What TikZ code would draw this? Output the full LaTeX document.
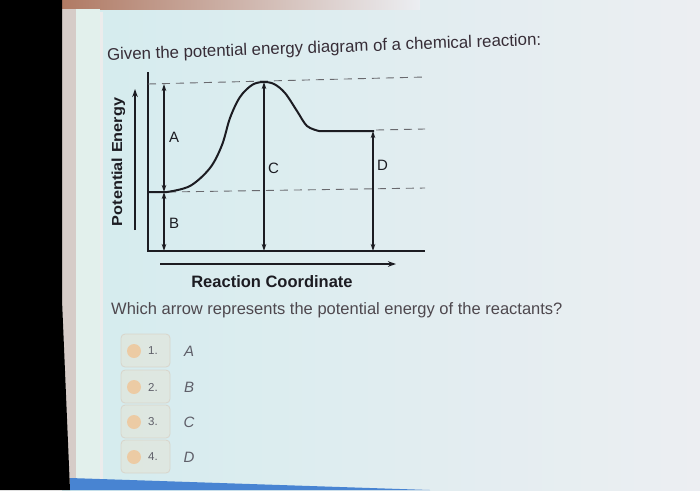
\documentclass[tikz,border=0pt]{standalone}
\usepackage{fontspec}
\setmainfont{Liberation Sans}
\usetikzlibrary{arrows.meta}
\definecolor{ink}{RGB}{28,28,34}
\definecolor{dashgray}{RGB}{105,105,110}
\definecolor{titlegray}{RGB}{55,45,55}
\definecolor{qgray}{RGB}{78,72,78}
\definecolor{optgray}{RGB}{95,95,105}
\definecolor{panelL}{RGB}{212,236,238}
\definecolor{panelR}{RGB}{236,238,242}
\definecolor{stripA}{RGB}{214,204,200}
\definecolor{stripB}{RGB}{226,240,236}
\definecolor{tan}{RGB}{176,122,100}
\definecolor{barblue}{RGB}{72,132,210}
\definecolor{radio}{RGB}{240,196,150}
\definecolor{boxfill}{RGB}{236,222,200}
\definecolor{boxline}{RGB}{215,200,185}
\tikzset{
  axisline/.style={ink, line width=1.8pt},
  pearrow/.style={draw=ink, line width=1.5pt, -{Stealth[length=8pt,width=5.5pt]}},
  levelarrow/.style={ink, line width=1.2pt, {Stealth[length=7pt,width=4.5pt]}-{Stealth[length=7pt,width=4.5pt]}},
  guide/.style={dashgray, line width=0.9pt, dash pattern=on 8pt off 6pt},
  curveline/.style={ink, line width=2pt, line join=round},
  arrowlabel/.style={ink, font=\fontsize{15}{17}\selectfont, anchor=west, inner sep=0pt},
  optbox/.style={draw=boxline, fill=boxfill, fill opacity=0.35, draw opacity=0.6, rounded corners=4pt, line width=0.8pt},
  optradio/.style={fill=radio, fill opacity=0.8},
  optnum/.style={optgray, font=\fontsize{11.5}{13}\selectfont, inner sep=0pt},
  optletter/.style={optgray, font=\itshape\fontsize{15}{17}\selectfont, inner sep=0pt}
}
\begin{document}
\begin{tikzpicture}[x=1pt,y=-1pt]
\useasboundingbox (0,0) rectangle (700,490);
% screen background
\fill[left color=panelL, right color=panelR] (62,0) rectangle (700,490);
\fill[left color=tan, right color=panelR] (62,0) rectangle (420,9);
\fill[stripA] (62,9) rectangle (76,490);
\fill[stripB] (76,9) rectangle (100,490);
\fill[white!85!gray] (100,12) rectangle (103,490);
\fill[black] (0,0) -- (62,0) -- (62,300) -- (70,490) -- (0,490) -- cycle;
\fill[barblue] (70,478) -- (430,490) -- (70,490) -- cycle;

% title
\node[titlegray, font=\fontsize{16.8}{19}\selectfont, rotate=2, anchor=west, inner sep=0pt] (title) at (107,56) {Given the potential energy diagram of a chemical reaction:};

% axes
\coordinate (axtop) at (148,72);
\coordinate (origin) at (148,251);
\coordinate (axright) at (425,251);
\draw[axisline] (axtop) -- (origin) -- (axright);

% potential energy label
\node[ink, font=\bfseries\fontsize{14.5}{17}\selectfont, rotate=90, anchor=base, inner sep=0pt] (pelabel) at (122,162) {\scalebox{1.12}[1]{Potential Energy}};

% potential energy arrow
\coordinate (pebot) at (135,230);
\coordinate (petop) at (135,89);
\draw[pearrow] (pebot) -- (petop);

% reaction coordinate arrow and label
\coordinate (rc0) at (160,264);
\coordinate (rc1) at (396,264);
\draw[pearrow] (rc0) -- (rc1);
\node[ink, font=\bfseries\fontsize{16.5}{19}\selectfont, inner sep=0pt] (rclabel) at (272,282) {Reaction Coordinate};

% guide lines
\coordinate (topL) at (148,84);
\coordinate (topR) at (425,77);
\coordinate (reacL) at (168,192);
\coordinate (reacR) at (425,188);
\coordinate (prodL) at (376,130);
\coordinate (prodR) at (425,129);
\draw[guide] (topL) -- (topR);
\draw[guide] (reacL) -- (reacR);
\draw[guide] (prodL) -- (prodR);

% energy curve
\coordinate (cstart) at (148,192);
\coordinate (peak) at (263,82);
\coordinate (cend) at (374,131);
\draw[curveline] (cstart) -- (167,192)
  plot[smooth, tension=0.55] coordinates {(167,192) (190,186) (210,168) (222,145) (230,118) (240,97) (252,85) (263,82) (274,84) (285,93) (297,111) (307,126) (319,131)}
  -- (cend);

% level arrows
\coordinate (Atop) at (164,84);
\coordinate (Abot) at (164,192);
\coordinate (Bbot) at (164,251);
\coordinate (Ctop) at (264,82);
\coordinate (Cbot) at (264,251);
\coordinate (Dtop) at (373,131);
\coordinate (Dbot) at (373,251);
\draw[levelarrow] (Atop) -- (Abot);
\draw[levelarrow] (Abot) -- (Bbot);
\draw[levelarrow] (Ctop) -- (Cbot);
\draw[levelarrow] (Dtop) -- (Dbot);
\node[arrowlabel] (labA) at (169,137) {A};
\node[arrowlabel] (labB) at (169,223) {B};
\node[arrowlabel] (labC) at (268,168) {C};
\node[arrowlabel] (labD) at (377,165) {D};

% question
\node[qgray, font=\fontsize{16.5}{19}\selectfont, anchor=west, inner sep=0pt] (question) at (111,310) {Which arrow represents the potential energy of the reactants?};

% options
\foreach \i/\y/\L in {1/351/A, 2/387/B, 3/422/C, 4/457/D}{
  \draw[optbox] (121,\y-17) rectangle (170,\y+16);
  \fill[optradio] (134,\y) circle (7pt);
  \node[optnum] (num\i) at (153,\y) {\i.};
  \node[optletter] (let\i) at (189,\y) {\L};
}
\end{tikzpicture}
\end{document}
